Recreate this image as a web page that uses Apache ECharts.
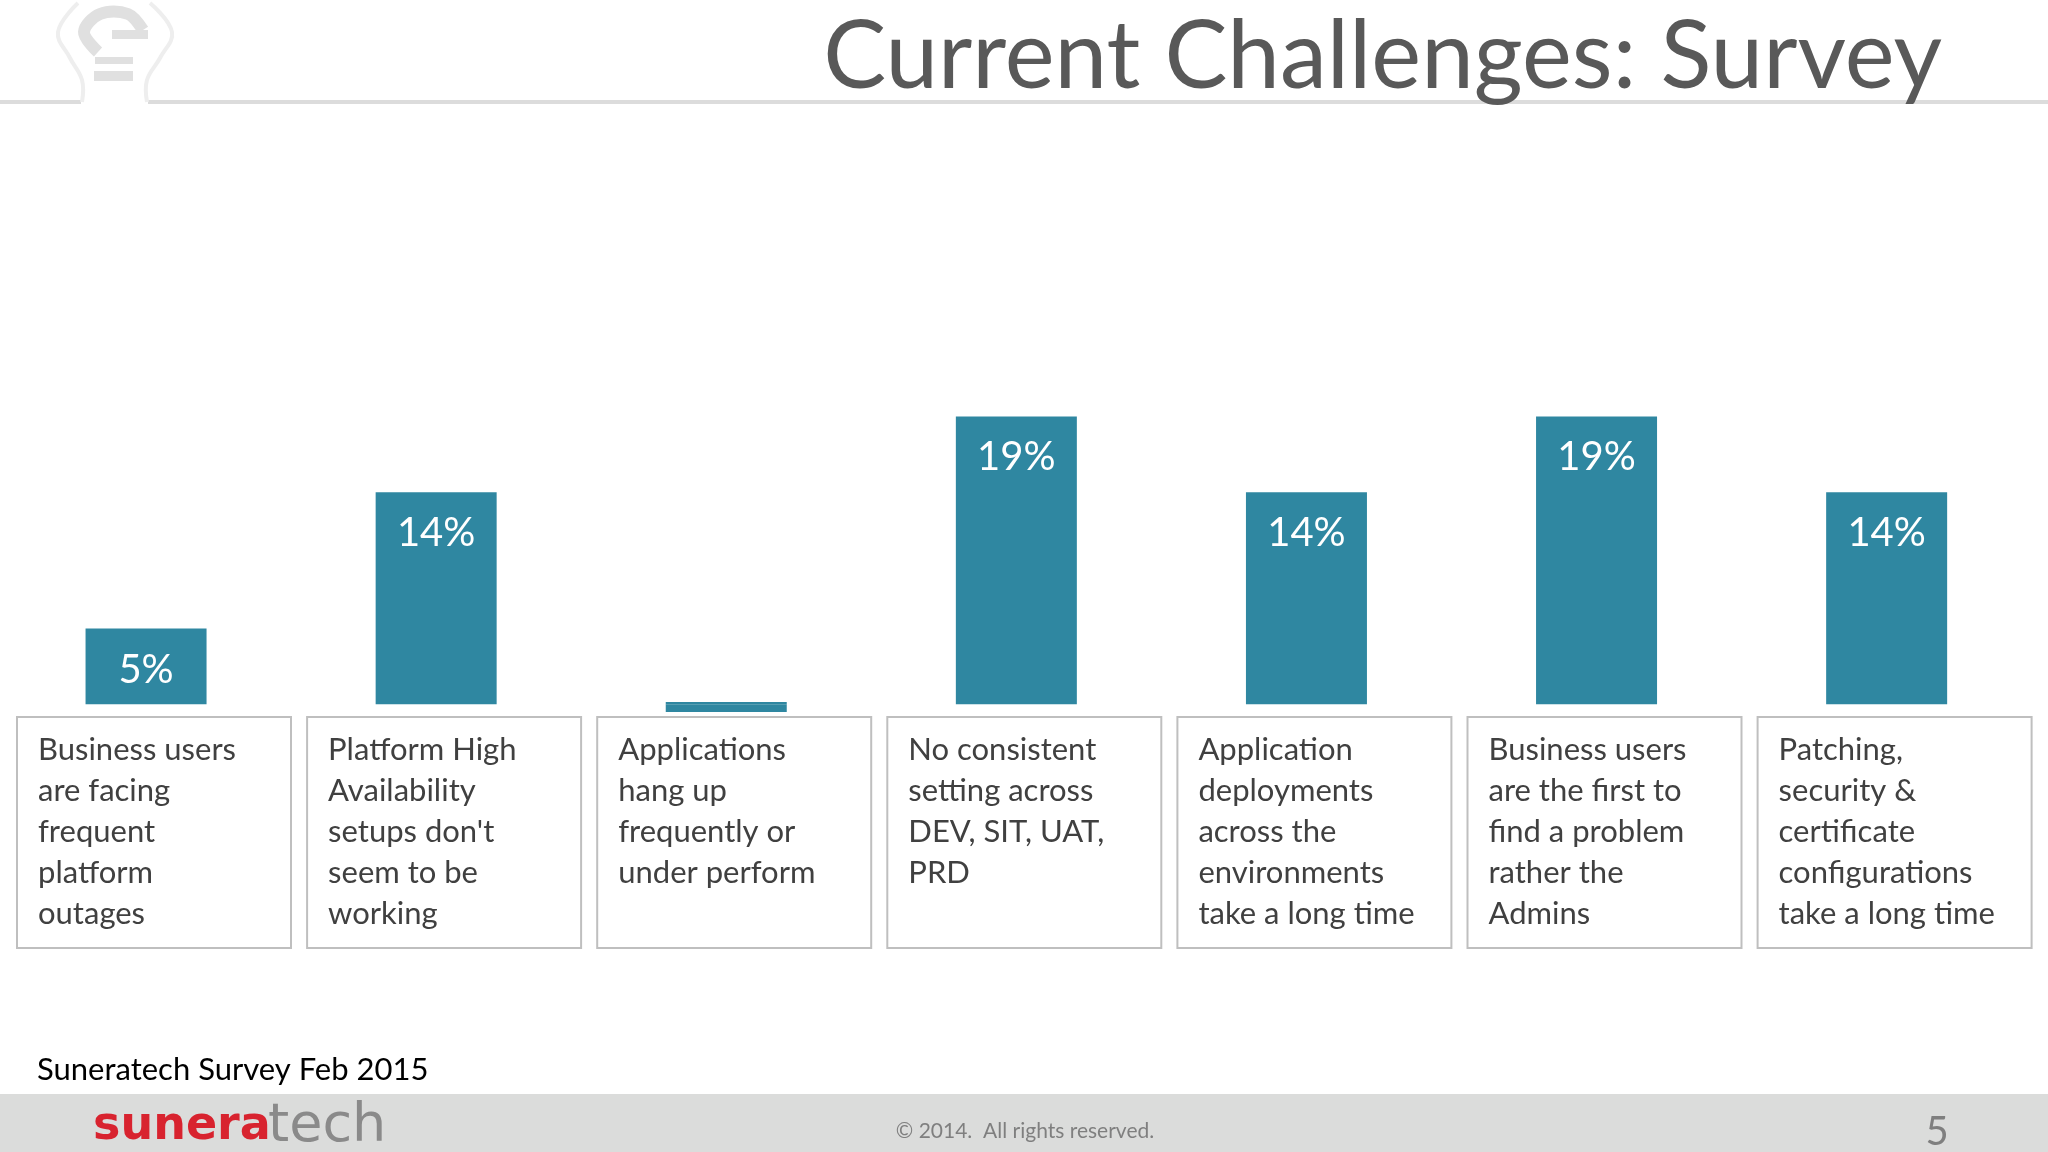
<!DOCTYPE html>
<html lang="en">
<head>
	<meta charset="UTF-8">
	<script src="https://cdn.jsdelivr.net/npm/echarts@6/dist/echarts.min.js"></script>
	<title>Current Challenges: Survey</title>
	<style>
		html, body { margin: 0; padding: 0; background: #fff; }
		#main { width: 2048px; height: 1152px; }
	</style>
</head>
<body>
<div id="main"></div>
<script type="text/javascript">
	var categories = [
		"Business users\nare facing\nfrequent\nplatform\noutages",
		"Platform High\nAvailability\nsetups don't\nseem to be\nworking",
		"Applications\nhang up\nfrequently or\nunder perform",
		"No consistent\nsetting across\nDEV, SIT, UAT,\nPRD",
		"Application\ndeployments\nacross the\nenvironments\ntake a long time",
		"Business users\nare the first to\nfind a problem\nrather the\nAdmins",
		"Patching,\nsecurity &\ncertificate\nconfigurations\ntake a long time"
	];
	var surveyValues = [5, 14, 0.15, 19, 14, 19, 14];
	// the third bar is a thin sliver that hangs a little below the baseline
	var belowBaseline = [0, 0, -0.5, 0, 0, 0, 0];
	var valueLabels = ["5%", "14%", "", "19%", "14%", "19%", "14%"];

	var font = 'Lato, "Noto Sans", sans-serif';
	var chart = echarts.init(document.getElementById('main'));

	var option = {
		animation: false,
		backgroundColor: '#ffffff',
		grid: [
			{ left: 1, width: 2030.7, top: 98.5, height: 621 },
			// second grid only carries the text boxes, each tick sits on a box's left edge
			{ left: 18, width: 1740.6, top: 100, height: 618 }
		],
		xAxis: [
			{ type: 'category', gridIndex: 0, data: categories, show: false },
			{
				type: 'category', gridIndex: 1, data: categories,
				boundaryGap: false,
				axisLine: { show: false },
				axisTick: { show: false },
				axisLabel: {
					interval: 0,
					margin: 0,
					align: 'left',
					verticalAlign: 'top',
					hideOverlap: false,
					width: 252,
					height: 206,
					padding: [11, 0, 12, 20],
					lineHeight: 41,
					overflow: 'none',
					color: '#404040',
					fontFamily: font,
					fontSize: 31,
					backgroundColor: '#ffffff',
					borderColor: '#bfbfbf',
					borderWidth: 2
				}
			}
		],
		yAxis: [
			{ type: 'value', gridIndex: 0, min: -1, max: 40, show: false },
			{ type: 'value', gridIndex: 1, min: 0, max: 1, show: false }
		],
		series: [
			{
				type: 'bar',
				xAxisIndex: 0,
				yAxisIndex: 0,
				stack: 'survey',
				barWidth: 121,
				data: surveyValues,
				itemStyle: { color: '#2f87a1' },
				label: {
					show: true,
					position: 'insideTop',
					distance: 21,
					color: '#ffffff',
					fontFamily: font,
					fontSize: 40,
					formatter: function (p) { return valueLabels[p.dataIndex]; }
				}
			},
			{
				type: 'bar',
				xAxisIndex: 0,
				yAxisIndex: 0,
				stack: 'survey',
				barWidth: 121,
				data: belowBaseline,
				itemStyle: { color: '#2f87a1' },
				silent: true
			}
		],
		graphic: [
			// header rule, broken by the bulb
			{ type: 'rect', shape: { x: 0, y: 100, width: 81, height: 4 }, style: { fill: '#dcdcdc' } },
			{ type: 'rect', shape: { x: 148, y: 100, width: 1900, height: 4 }, style: { fill: '#dcdcdc' } },
			// bulb logo
			{ type: 'polyline', shape: { smooth: 0.4, points: [[82, 102], [82, 80], [70, 58], [58, 32], [78, 3]] }, style: { stroke: '#eeeeee', lineWidth: 4, fill: null } },
			{ type: 'polyline', shape: { smooth: 0.4, points: [[147, 102], [147, 80], [160, 58], [172, 32], [150, 3]] }, style: { stroke: '#eeeeee', lineWidth: 4, fill: null } },
			{ type: 'polyline', shape: { smooth: 0.35, points: [[143, 30], [128, 14], [100, 14], [84, 32], [98, 52]] }, style: { stroke: '#e0e0e0', lineWidth: 12, fill: null } },
			{ type: 'rect', shape: { x: 112, y: 30, width: 36, height: 9 }, style: { fill: '#e0e0e0' } },
			{ type: 'rect', shape: { x: 95, y: 57, width: 38, height: 7 }, style: { fill: '#e0e0e0' } },
			{ type: 'rect', shape: { x: 94, y: 71, width: 39, height: 10 }, style: { fill: '#e0e0e0' } },
			// title
			{ type: 'text', x: 1942, y: 58, style: { text: 'Current Challenges: Survey', fill: '#595959', font: '94.3px ' + font, textAlign: 'right', textVerticalAlign: 'middle' } },
			// source note
			{ type: 'text', x: 37, y: 1070, style: { text: 'Suneratech Survey Feb 2015', fill: '#000000', font: '31px ' + font, textAlign: 'left', textVerticalAlign: 'middle' } },
			// footer band
			{ type: 'rect', shape: { x: 0, y: 1094, width: 2048, height: 58 }, style: { fill: '#dbdcdb' } },
			{ type: 'text', x: 93, y: 1127, style: { text: 'sunera', fill: '#d8232f', font: 'bold 46px "DejaVu Sans", sans-serif', textAlign: 'left', textVerticalAlign: 'middle' } },
			{ type: 'text', x: 268, y: 1127, style: { text: 'tech', fill: '#8a8a8a', font: '54px "DejaVu Sans", sans-serif', textAlign: 'left', textVerticalAlign: 'middle' } },
			{ type: 'text', x: 1025, y: 1131, style: { text: '\u00a9 2014.  All rights reserved.', fill: '#7f7f7f', font: '21px ' + font, textAlign: 'center', textVerticalAlign: 'middle' } },
			{ type: 'text', x: 1937, y: 1132, style: { text: '5', fill: '#7f7f7f', font: '40px ' + font, textAlign: 'center', textVerticalAlign: 'middle' } }
		]
	};
	chart.setOption(option);
</script>
</body>
</html>
